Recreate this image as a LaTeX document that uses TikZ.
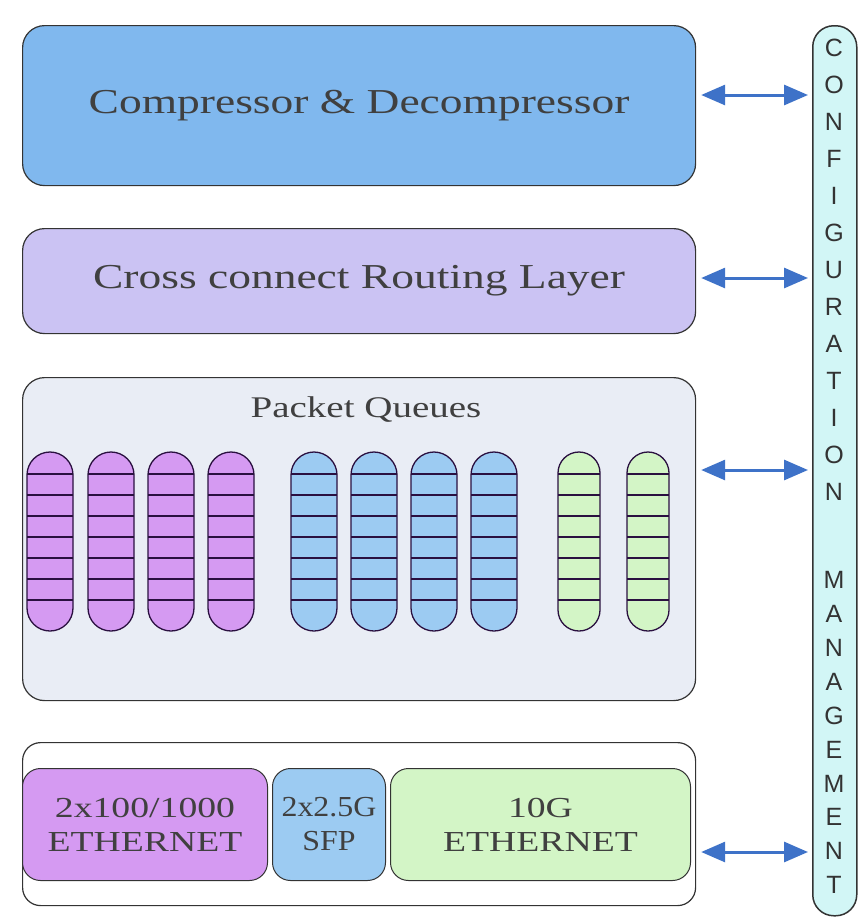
\documentclass[tikz,border=0pt]{standalone}
\usepackage{fontspec}
\setmainfont{Liberation Serif}
\setsansfont{Liberation Sans}
\newfontfamily\widefont[FakeStretch=1.3]{Liberation Serif}
\newfontfamily\narrowfont[FakeStretch=1.1]{Liberation Serif}
\usetikzlibrary{arrows.meta}
\definecolor{compblue}{HTML}{80B8EE}
\definecolor{routlav}{HTML}{CBC3F3}
\definecolor{queuebg}{HTML}{E9EDF5}
\definecolor{qpurple}{HTML}{D59AF2}
\definecolor{qblue}{HTML}{9CCBF2}
\definecolor{qgreen}{HTML}{D3F5C6}
\definecolor{cfgcyan}{HTML}{D2F6F6}
\definecolor{arrblue}{HTML}{3E72C8}
\definecolor{qline}{HTML}{2A1040}
\tikzset{
  layer/.style={draw=black!80, line width=1.2pt, rounded corners=22pt, anchor=north west},
  port/.style={draw=black!80, line width=1pt, rounded corners=18pt, anchor=north west,
    align=center, inner sep=0pt, font=\widefont\fontsize{29}{34}\selectfont, text=black!75},
  link/.style={draw=arrblue, line width=3pt,
    {Triangle[length=24pt,width=20pt]}-{Triangle[length=24pt,width=20pt]}},
}
\newcommand{\queue}[3]{% x, fill, width
  \draw[fill=#2, line width=1.3pt, draw=qline, rounded corners=#3*0.5pt]
    (#1,452) rectangle (#1+#3,631);
  \foreach \yy in {474,495,...,610}
    \draw[line width=1.3pt, qline] (#1,\yy) -- (#1+#3,\yy);
}
\begin{document}
\begin{tikzpicture}[x=1pt,y=-1pt]
  \useasboundingbox[fill=white] (0,0) rectangle (865,922);

  \node[layer, fill=compblue, minimum width=673pt, minimum height=160pt, text=black!75,
    font=\widefont\fontsize{35}{38}\selectfont] (comp) at (22,25) {Compressor \& Decompressor};
  \node[layer, fill=routlav, minimum width=673pt, minimum height=105pt, text=black!75,
    font=\widefont\fontsize{35}{38}\selectfont] (rout) at (22,228) {Cross connect Routing Layer};
  \node[layer, fill=queuebg, minimum width=673pt, minimum height=323pt] (pq) at (22,377) {};
  \node[font=\widefont\fontsize{30}{32}\selectfont, text=black!75] (pqtitle) at (366,410) {Packet Queues};

  % queues
  \foreach \x in {27,88,148,208} {\queue{\x}{qpurple}{46}}
  \foreach \x in {291,351,411,471} {\queue{\x}{qblue}{46}}
  \foreach \x in {558,627} {\queue{\x}{qgreen}{42}}

  \node[layer, fill=white, rounded corners=18pt, minimum width=673pt, minimum height=163pt] (phy) at (22,742) {};
  \node[port, fill=qpurple, minimum width=245pt, minimum height=112pt] (eth) at (22,768) {2x100/1000\\ETHERNET};
  \node[port, fill=qblue, minimum width=113pt, minimum height=112pt,
    font=\narrowfont\fontsize{29}{34}\selectfont] (sfp) at (272,768) {2x2.5G\\SFP};
  \node[port, fill=qgreen, minimum width=300pt, minimum height=112pt] (teng) at (390,768) {10G\\ETHERNET};

  % configuration bar
  \node[draw=black!80, line width=1.5pt, fill=cfgcyan, rounded corners=21pt, anchor=north west,
    minimum width=44pt, minimum height=890pt] (cfg) at (812,25) {};
  \foreach \c [count=\i from 0] in {C,O,N,F,I,G,U,R,A,T,I,O,N}
    \node[font=\sffamily\fontsize{25}{25}\selectfont, text=black!80] at (834,48+37*\i) {\c};
  \foreach \c [count=\i from 0] in {M,A,N,A,G,E,M,E,N,T}
    \node[font=\sffamily\fontsize{25}{25}\selectfont, text=black!80] at (834,580+33.9*\i) {\c};

  % links
  \coordinate (c1) at (808,95);
  \coordinate (c2) at (808,278);
  \coordinate (c3) at (808,470);
  \coordinate (c4) at (808,852);
  \draw[link] (comp.east |- c1) ++(5,0) coordinate (l1) -- (c1);
  \draw[link] (rout.east |- c2) ++(5,0) coordinate (l2) -- (c2);
  \draw[link] (pq.east |- c3) ++(5,0) coordinate (l3) -- (c3);
  \draw[link] (phy.east |- c4) ++(5,0) coordinate (l4) -- (c4);
\end{tikzpicture}
\end{document}
